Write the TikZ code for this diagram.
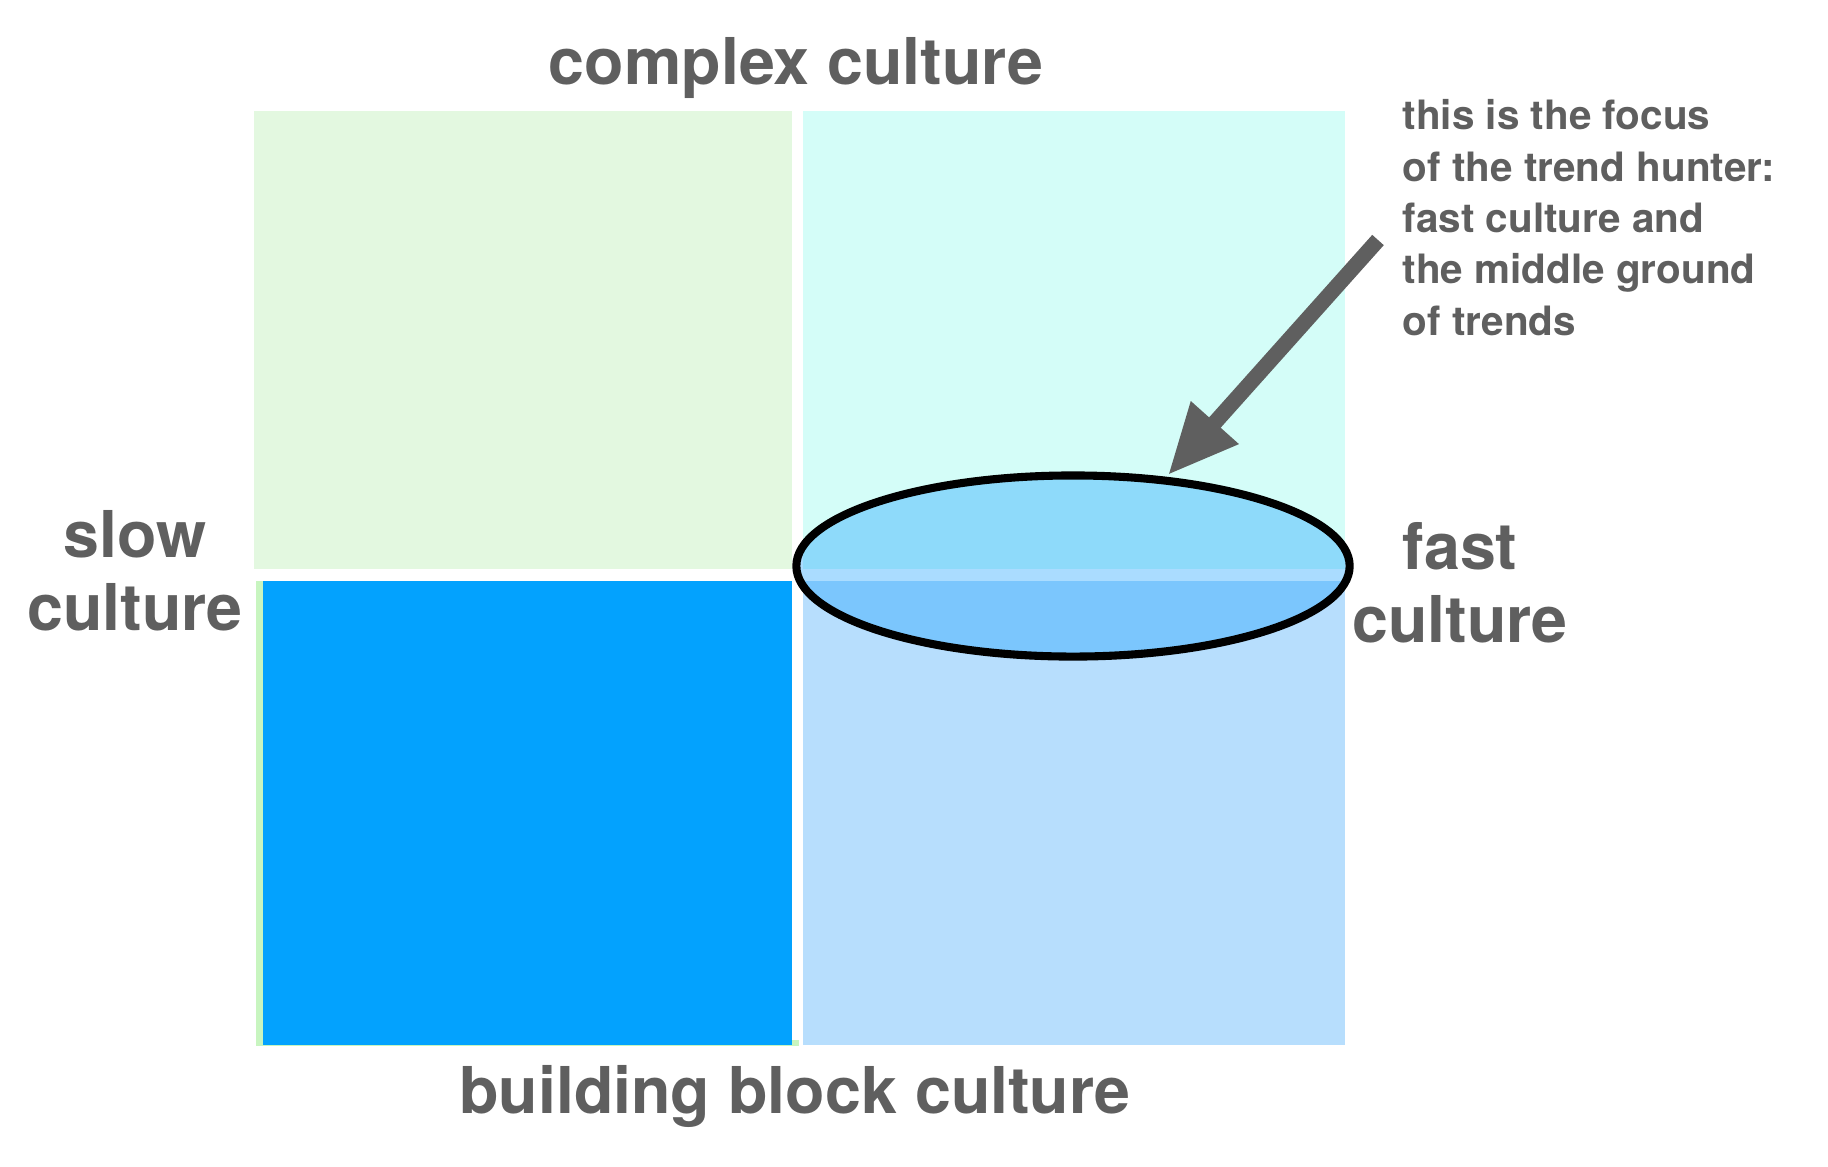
\documentclass[tikz,border=0pt]{standalone}
\usepackage{fontspec}
\setmainfont{TeX Gyre Heros}
\usepackage{tikz}
\usetikzlibrary{positioning,shapes.geometric,arrows.meta}
\definecolor{label-grey}{RGB}{95,95,95}
\definecolor{quad-green}{RGB}{227,248,224}
\definecolor{quad-cyan}{RGB}{212,253,248}
\definecolor{quad-blue}{RGB}{3,162,254}
\definecolor{quad-sky}{RGB}{183,222,253}
\definecolor{strip-green}{RGB}{200,245,192}
\definecolor{focus-blue}{RGB}{12,154,254}

\begin{document}
\begin{tikzpicture}[x=0.01cm,y=-0.01cm,
  biglabel/.style={text=label-grey, inner sep=0pt, align=center,
    font=\bfseries\fontsize{18.35}{20.5}\selectfont}]
\useasboundingbox (0,0) rectangle (1828,1166);%page frame

% the four fields
\fill [quad-green] (254,111) rectangle (792,569);
\fill [quad-cyan] (803,111) rectangle (1345,569);
\fill [strip-green] (256,581) rectangle (792,1046);
\fill [strip-green] (792,1040) rectangle (799,1046);
\fill [quad-blue] (263,581) rectangle (792,1045);
\fill [quad-sky] (803,581) rectangle (1345,1045);

% axis labels (base = last line)
\node [name=complex, biglabel, anchor=base] at (796,84) {complex culture};
\node [name=building, biglabel, anchor=base] at (795,1113) {building block culture};
\node [name=slow, biglabel, anchor=base] at (135,630) {slow\\culture};
\node [name=fast, biglabel, anchor=base] at (1460,642) {fast\\culture};

% the focus
\node [name=focus,
shape=ellipse,
draw=black,
line width=2.3pt,
fill=focus-blue,
fill opacity=0.35,
inner sep=0pt,
minimum width=5.53cm,
minimum height=1.81cm] at (1073,566) {};

\node [name=note,
anchor=base west,
text=label-grey,
inner sep=0pt,
align=left,
font=\bfseries\fontsize{11.5}{14.58}\selectfont] at (1402,335)
{this is the focus\\
of the trend hunter:\\
fast culture and\\
the middle ground\\
of trends};

\coordinate (pointer) at (1378,240);
\coordinate (tip) at (1168,475);
\draw [label-grey, line width=4.4pt, -{Triangle[length=20pt,width=17pt]}] (pointer) -- (tip);

\end{tikzpicture}
\end{document}
